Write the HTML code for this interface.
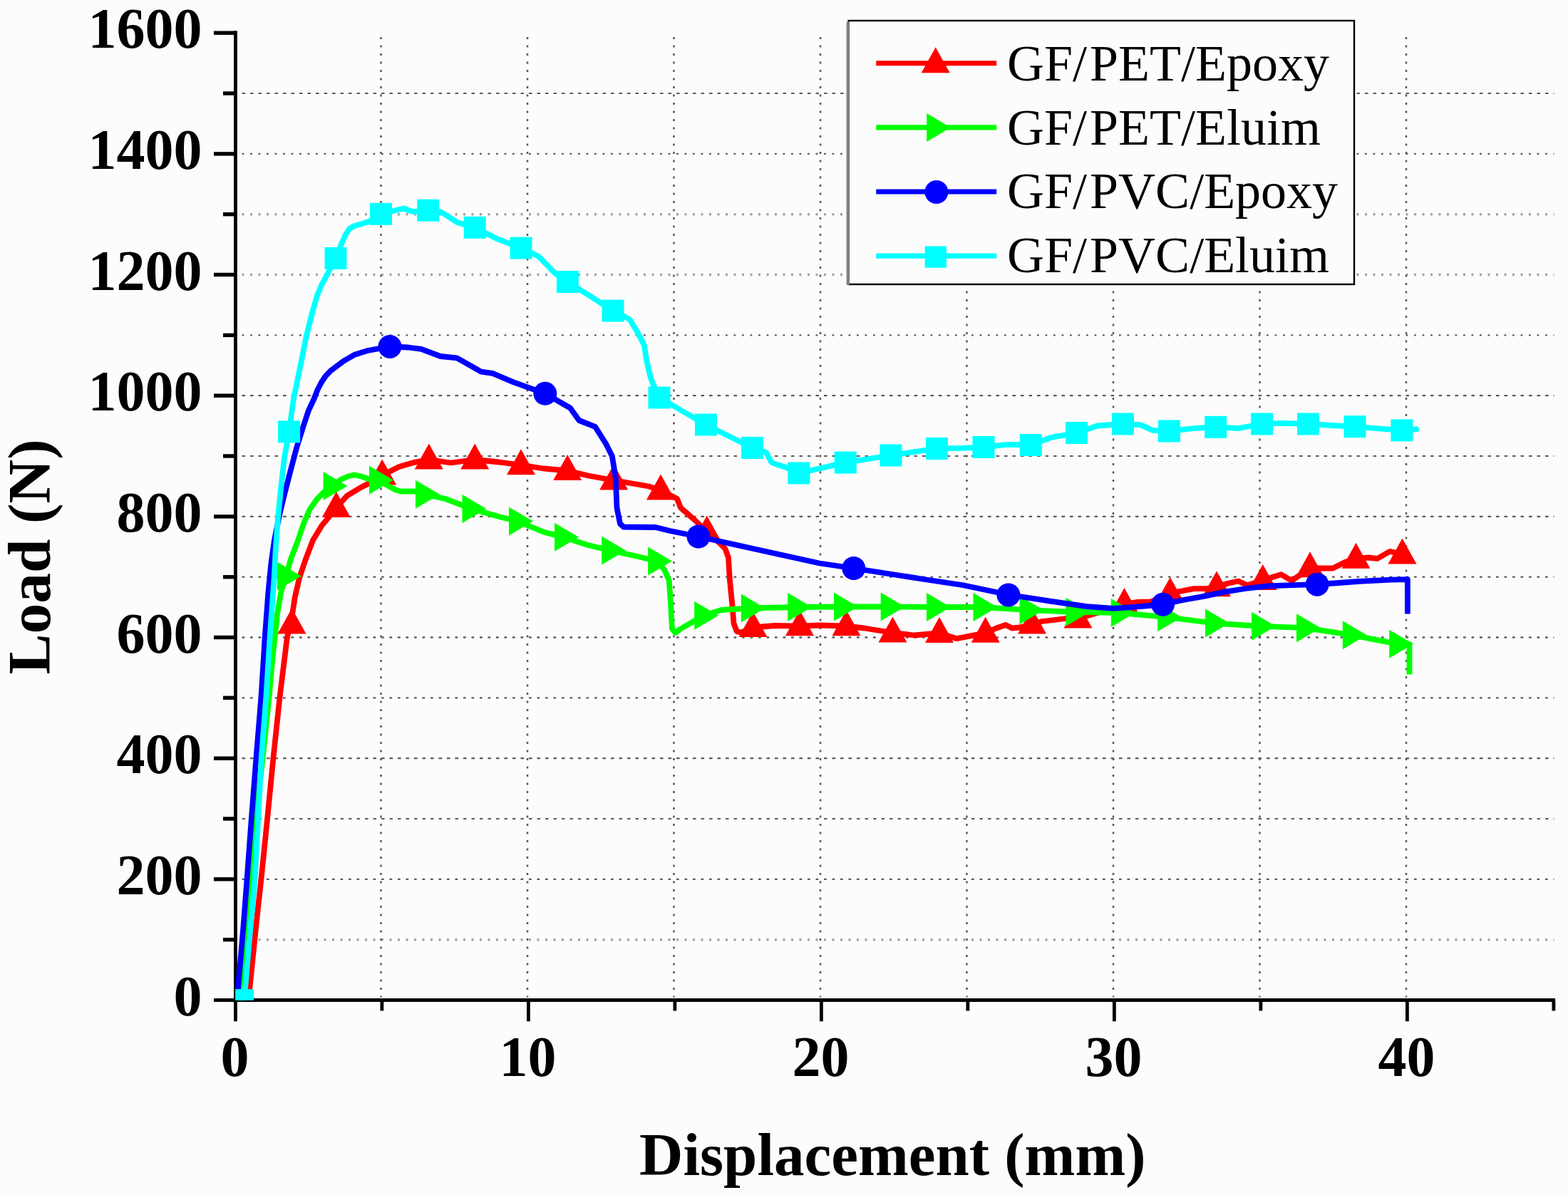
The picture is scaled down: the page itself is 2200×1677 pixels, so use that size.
<!DOCTYPE html>
<html lang="en">
<head>
<meta charset="utf-8">
<title>Load vs Displacement</title>
<style>
html,body{margin:0;padding:0;background:#fcfcfc;}
body{width:2200px;height:1677px;overflow:hidden;font-family:"Liberation Serif", "DejaVu Serif", serif;}
svg{display:block;}
</style>
</head>
<body>
<svg width="2200" height="1677" viewBox="0 0 2200 1677">
<rect width="2200" height="1677" fill="#fcfcfc"/>
<g fill="none">
<line x1="339.5" y1="1318.7" x2="2180.4" y2="1318.7" stroke="#a4a4a4" stroke-width="3.6" stroke-dasharray="3 8.5"/>
<line x1="339.5" y1="1233.8" x2="2180.4" y2="1233.8" stroke="#5c5c5c" stroke-width="2.3" stroke-dasharray="3.7 7.8"/>
<line x1="339.5" y1="1149.0" x2="2180.4" y2="1149.0" stroke="#5c5c5c" stroke-width="2.2" stroke-dasharray="4.6 6.9"/>
<line x1="339.5" y1="1064.2" x2="2180.4" y2="1064.2" stroke="#5c5c5c" stroke-width="2.2" stroke-dasharray="4.6 6.9"/>
<line x1="339.5" y1="979.3" x2="2180.4" y2="979.3" stroke="#5c5c5c" stroke-width="2.3" stroke-dasharray="3.7 7.8"/>
<line x1="339.5" y1="894.5" x2="2180.4" y2="894.5" stroke="#5c5c5c" stroke-width="2.3" stroke-dasharray="3.7 7.8"/>
<line x1="339.5" y1="809.7" x2="2180.4" y2="809.7" stroke="#5c5c5c" stroke-width="2.3" stroke-dasharray="3.7 7.8"/>
<line x1="339.5" y1="724.9" x2="2180.4" y2="724.9" stroke="#5c5c5c" stroke-width="2.2" stroke-dasharray="4.6 6.9"/>
<line x1="339.5" y1="640.0" x2="2180.4" y2="640.0" stroke="#5c5c5c" stroke-width="2.2" stroke-dasharray="4.6 6.9"/>
<line x1="339.5" y1="555.2" x2="2180.4" y2="555.2" stroke="#5c5c5c" stroke-width="2.2" stroke-dasharray="4.6 6.9"/>
<line x1="339.5" y1="470.4" x2="2180.4" y2="470.4" stroke="#5c5c5c" stroke-width="2.4" stroke-dasharray="2.8 8.7"/>
<line x1="339.5" y1="385.5" x2="2180.4" y2="385.5" stroke="#a4a4a4" stroke-width="3.6" stroke-dasharray="3 8.5"/>
<line x1="339.5" y1="300.7" x2="2180.4" y2="300.7" stroke="#a4a4a4" stroke-width="3.6" stroke-dasharray="3 8.5"/>
<line x1="339.5" y1="215.9" x2="2180.4" y2="215.9" stroke="#5c5c5c" stroke-width="2.4" stroke-dasharray="2.8 8.7"/>
<line x1="339.5" y1="131.0" x2="2180.4" y2="131.0" stroke="#5c5c5c" stroke-width="2.2" stroke-dasharray="4.6 6.9"/>
<line x1="534.5" y1="52" x2="534.5" y2="1399.5" stroke="#585858" stroke-width="2.5" stroke-dasharray="3 8.5"/>
<line x1="740.0" y1="52" x2="740.0" y2="1399.5" stroke="#585858" stroke-width="2.5" stroke-dasharray="3 8.5"/>
<line x1="945.5" y1="52" x2="945.5" y2="1399.5" stroke="#585858" stroke-width="2.5" stroke-dasharray="3 8.5"/>
<line x1="1151.0" y1="52" x2="1151.0" y2="1399.5" stroke="#585858" stroke-width="2.5" stroke-dasharray="3 8.5"/>
<line x1="1356.5" y1="52" x2="1356.5" y2="1399.5" stroke="#585858" stroke-width="2.5" stroke-dasharray="3 8.5"/>
<line x1="1562.0" y1="52" x2="1562.0" y2="1399.5" stroke="#585858" stroke-width="2.5" stroke-dasharray="3 8.5"/>
<line x1="1767.5" y1="52" x2="1767.5" y2="1399.5" stroke="#585858" stroke-width="2.5" stroke-dasharray="3 8.5"/>
<line x1="1973.0" y1="52" x2="1973.0" y2="1399.5" stroke="#585858" stroke-width="2.5" stroke-dasharray="3 8.5"/>
</g>
<g stroke="#000" stroke-width="4.8" fill="none" stroke-linecap="butt">
<line x1="330.45" y1="43.2" x2="330.45" y2="1433.3"/>
<line x1="300" y1="1403.5" x2="2182.0" y2="1403.5"/>
<line x1="313" y1="1318.7" x2="330.4" y2="1318.7" stroke-width="5.4"/>
<line x1="300" y1="1233.8" x2="330.4" y2="1233.8" stroke-width="5.4"/>
<line x1="313" y1="1149.0" x2="330.4" y2="1149.0" stroke-width="5.4"/>
<line x1="300" y1="1064.2" x2="330.4" y2="1064.2" stroke-width="5.4"/>
<line x1="313" y1="979.3" x2="330.4" y2="979.3" stroke-width="5.4"/>
<line x1="300" y1="894.5" x2="330.4" y2="894.5" stroke-width="5.4"/>
<line x1="313" y1="809.7" x2="330.4" y2="809.7" stroke-width="5.4"/>
<line x1="300" y1="724.9" x2="330.4" y2="724.9" stroke-width="5.4"/>
<line x1="313" y1="640.0" x2="330.4" y2="640.0" stroke-width="5.4"/>
<line x1="300" y1="555.2" x2="330.4" y2="555.2" stroke-width="5.4"/>
<line x1="313" y1="470.4" x2="330.4" y2="470.4" stroke-width="5.4"/>
<line x1="300" y1="385.5" x2="330.4" y2="385.5" stroke-width="5.4"/>
<line x1="313" y1="300.7" x2="330.4" y2="300.7" stroke-width="5.4"/>
<line x1="300" y1="215.9" x2="330.4" y2="215.9" stroke-width="5.4"/>
<line x1="313" y1="131.0" x2="330.4" y2="131.0" stroke-width="5.4"/>
<line x1="300" y1="46.2" x2="330.4" y2="46.2" stroke-width="5.4"/>
<line x1="535.9" y1="1403.5" x2="535.9" y2="1418.5"/>
<line x1="741.4" y1="1403.5" x2="741.4" y2="1433.3"/>
<line x1="946.9" y1="1403.5" x2="946.9" y2="1418.5"/>
<line x1="1152.4" y1="1403.5" x2="1152.4" y2="1433.3"/>
<line x1="1357.9" y1="1403.5" x2="1357.9" y2="1418.5"/>
<line x1="1563.4" y1="1403.5" x2="1563.4" y2="1433.3"/>
<line x1="1768.9" y1="1403.5" x2="1768.9" y2="1418.5"/>
<line x1="1974.4" y1="1403.5" x2="1974.4" y2="1433.3"/>
<line x1="2179.9" y1="1403.5" x2="2179.9" y2="1418.5"/>
</g>
<defs><clipPath id="plot"><rect x="330.15" y="0" width="1900" height="1403.70"/></clipPath></defs>
<g clip-path="url(#plot)">
<g>
<path d="M348.6 1404.0L350.2 1388.6L359.2 1300.0L366.4 1234.5L375.1 1148.9L383.5 1063.3L392.5 978.7L402.8 895.0L409.5 866.0L413.9 837.7L420.2 810.5L428.6 785.5L439.0 758.3L451.5 737.5L462.0 724.9L471.8 712.5L487.0 695.7L507.9 683.2L518.3 678.0L536.2 667.0L560.0 655.0L580.0 649.2L601.8 645.0L632.5 649.5L666.2 645.0L700.0 648.5L731.0 652.7L762.5 657.5L796.2 660.5L825.0 667.5L861.2 674.0L910.0 682.5L927.0 688.0L950.0 700.0L955.0 712.5L975.0 730.0L991.8 746.0L1007.5 760.0L1017.5 770.0L1022.0 782.5L1023.8 812.5L1027.5 850.0L1029.5 875.0L1033.8 886.2L1040.0 887.5L1056.5 880.5L1087.5 878.0L1122.0 878.7L1150.0 877.5L1187.5 878.7L1212.5 881.5L1252.5 888.0L1282.5 891.5L1318.0 888.5L1342.5 896.2L1382.7 888.3L1398.0 881.5L1411.0 877.0L1420.0 881.5L1431.0 880.5L1448.0 876.0L1462.0 872.0L1475.0 870.5L1495.0 868.0L1512.5 868.0L1545.0 858.5L1577.5 847.5L1595.0 845.0L1615.0 844.4L1641.8 832.5L1675.0 826.2L1692.5 826.2L1707.0 823.8L1722.5 818.8L1737.5 815.5L1750.0 821.2L1771.8 814.5L1785.0 810.0L1797.5 806.2L1812.5 815.0L1838.0 796.8L1855.0 797.5L1870.0 797.5L1887.5 788.8L1902.5 784.2L1920.0 782.5L1932.5 783.8L1950.0 773.8L1967.5 778.0" fill="none" stroke="#ff0000" stroke-width="7.8" stroke-linejoin="round" stroke-linecap="butt"/>
<path d="M409.5 853.5L429.5 889.5L389.5 889.5Z" fill="#ff0000"/>
<path d="M471.8 690.0L491.8 726.0L451.8 726.0Z" fill="#ff0000"/>
<path d="M536.2 644.5L556.2 680.5L516.2 680.5Z" fill="#ff0000"/>
<path d="M601.8 622.5L621.8 658.5L581.8 658.5Z" fill="#ff0000"/>
<path d="M666.2 622.5L686.2 658.5L646.2 658.5Z" fill="#ff0000"/>
<path d="M731.0 630.2L751.0 666.2L711.0 666.2Z" fill="#ff0000"/>
<path d="M796.2 638.0L816.2 674.0L776.2 674.0Z" fill="#ff0000"/>
<path d="M861.2 651.5L881.2 687.5L841.2 687.5Z" fill="#ff0000"/>
<path d="M927.0 665.5L947.0 701.5L907.0 701.5Z" fill="#ff0000"/>
<path d="M991.8 723.5L1011.8 759.5L971.8 759.5Z" fill="#ff0000"/>
<path d="M1056.5 858.0L1076.5 894.0L1036.5 894.0Z" fill="#ff0000"/>
<path d="M1122.0 856.2L1142.0 892.2L1102.0 892.2Z" fill="#ff0000"/>
<path d="M1187.5 856.2L1207.5 892.2L1167.5 892.2Z" fill="#ff0000"/>
<path d="M1252.5 865.5L1272.5 901.5L1232.5 901.5Z" fill="#ff0000"/>
<path d="M1318.0 866.0L1338.0 902.0L1298.0 902.0Z" fill="#ff0000"/>
<path d="M1382.7 865.8L1402.7 901.8L1362.7 901.8Z" fill="#ff0000"/>
<path d="M1448.0 853.5L1468.0 889.5L1428.0 889.5Z" fill="#ff0000"/>
<path d="M1512.5 845.5L1532.5 881.5L1492.5 881.5Z" fill="#ff0000"/>
<path d="M1577.5 825.0L1597.5 861.0L1557.5 861.0Z" fill="#ff0000"/>
<path d="M1641.8 810.0L1661.8 846.0L1621.8 846.0Z" fill="#ff0000"/>
<path d="M1707.0 801.2L1727.0 837.2L1687.0 837.2Z" fill="#ff0000"/>
<path d="M1771.8 792.0L1791.8 828.0L1751.8 828.0Z" fill="#ff0000"/>
<path d="M1838.0 774.2L1858.0 810.2L1818.0 810.2Z" fill="#ff0000"/>
<path d="M1902.5 761.8L1922.5 797.8L1882.5 797.8Z" fill="#ff0000"/>
<path d="M1967.5 755.5L1987.5 791.5L1947.5 791.5Z" fill="#ff0000"/>
</g>
<g>
<path d="M339.0 1404.0L346.5 1300.0L352.8 1234.5L359.0 1149.0L368.7 1063.0L377.5 979.0L383.7 910.0L386.2 890.0L388.9 862.7L394.1 831.4L401.4 808.4L407.7 785.5L418.1 758.3L426.5 733.3L434.8 714.5L445.3 699.9L454.0 691.0L466.1 682.1L478.7 672.7L489.0 668.2L497.5 666.5L507.0 668.5L518.0 672.7L530.5 673.8L555.0 687.5L562.5 689.5L582.5 689.5L595.5 693.8L625.0 700.0L661.0 713.9L700.0 725.0L726.5 731.5L762.5 746.5L790.5 753.8L825.0 765.0L856.8 772.5L895.0 781.0L921.8 787.5L932.5 800.0L938.8 815.0L941.2 850.0L943.0 882.5L947.5 888.0L955.0 882.5L986.8 863.8L1012.5 856.0L1052.3 853.5L1117.8 852.0L1182.5 851.5L1248.2 851.5L1312.5 852.0L1378.0 852.0L1443.0 856.2L1508.0 858.8L1571.2 860.0L1636.8 866.2L1703.5 874.5L1768.5 878.8L1831.5 881.2L1896.2 891.2L1961.8 903.8L1977.5 903.8L1977.5 946.6" fill="none" stroke="#00ff00" stroke-width="7.8" stroke-linejoin="round" stroke-linecap="butt"/>
<path d="M388.9 788.4L422.9 808.4L388.9 828.4Z" fill="#00ff00"/>
<path d="M453.6 662.1L487.6 682.1L453.6 702.1Z" fill="#00ff00"/>
<path d="M518.0 653.8L552.0 673.8L518.0 693.8Z" fill="#00ff00"/>
<path d="M583.0 673.8L617.0 693.8L583.0 713.8Z" fill="#00ff00"/>
<path d="M648.5 693.9L682.5 713.9L648.5 733.9Z" fill="#00ff00"/>
<path d="M714.0 711.5L748.0 731.5L714.0 751.5Z" fill="#00ff00"/>
<path d="M778.0 733.8L812.0 753.8L778.0 773.8Z" fill="#00ff00"/>
<path d="M844.2 752.5L878.2 772.5L844.2 792.5Z" fill="#00ff00"/>
<path d="M909.2 767.5L943.2 787.5L909.2 807.5Z" fill="#00ff00"/>
<path d="M974.2 843.8L1008.2 863.8L974.2 883.8Z" fill="#00ff00"/>
<path d="M1039.8 833.5L1073.8 853.5L1039.8 873.5Z" fill="#00ff00"/>
<path d="M1105.2 832.0L1139.2 852.0L1105.2 872.0Z" fill="#00ff00"/>
<path d="M1170.0 831.5L1204.0 851.5L1170.0 871.5Z" fill="#00ff00"/>
<path d="M1235.7 831.5L1269.7 851.5L1235.7 871.5Z" fill="#00ff00"/>
<path d="M1300.0 832.0L1334.0 852.0L1300.0 872.0Z" fill="#00ff00"/>
<path d="M1365.5 832.0L1399.5 852.0L1365.5 872.0Z" fill="#00ff00"/>
<path d="M1430.5 836.2L1464.5 856.2L1430.5 876.2Z" fill="#00ff00"/>
<path d="M1495.5 838.8L1529.5 858.8L1495.5 878.8Z" fill="#00ff00"/>
<path d="M1558.8 840.0L1592.8 860.0L1558.8 880.0Z" fill="#00ff00"/>
<path d="M1624.2 846.2L1658.2 866.2L1624.2 886.2Z" fill="#00ff00"/>
<path d="M1691.0 854.5L1725.0 874.5L1691.0 894.5Z" fill="#00ff00"/>
<path d="M1756.0 858.8L1790.0 878.8L1756.0 898.8Z" fill="#00ff00"/>
<path d="M1819.0 861.2L1853.0 881.2L1819.0 901.2Z" fill="#00ff00"/>
<path d="M1883.8 871.2L1917.8 891.2L1883.8 911.2Z" fill="#00ff00"/>
<path d="M1949.2 883.8L1983.2 903.8L1949.2 923.8Z" fill="#00ff00"/>
</g>
<g>
<path d="M332.6 1404.0L333.9 1388.6L341.5 1300.0L346.5 1234.5L352.8 1148.9L359.5 1063.3L366.4 978.7L372.0 890.0L376.4 831.4L380.5 789.6L385.0 758.0L392.0 723.0L399.0 694.0L407.7 660.2L416.0 628.9L424.4 601.8L432.7 576.7L440.5 560.0L445.5 547.0L451.0 536.5L457.0 527.5L464.5 519.8L481.8 506.8L497.7 497.7L516.0 492.0L547.0 486.4L572.7 487.5L591.0 489.8L618.0 500.0L641.0 502.3L675.0 521.6L691.0 523.9L720.5 536.4L764.8 552.3L800.0 572.5L812.5 590.0L835.0 598.8L850.0 622.5L858.8 640.0L863.8 670.0L865.5 712.5L870.0 735.0L875.0 739.5L920.0 740.0L940.0 745.0L980.0 753.0L1050.0 768.5L1150.0 790.5L1197.8 797.5L1300.0 813.5L1350.0 821.0L1414.5 834.5L1475.0 843.8L1525.0 851.2L1562.5 853.8L1600.0 851.2L1631.6 848.3L1660.0 842.0L1689.0 836.9L1718.2 830.6L1747.3 826.0L1776.4 822.6L1805.5 821.3L1848.1 820.2L1878.2 818.0L1907.3 815.8L1950.9 813.6L1974.9 813.2L1974.9 861.6" fill="none" stroke="#0000ff" stroke-width="7.8" stroke-linejoin="round" stroke-linecap="butt"/>
<circle cx="547.0" cy="486.4" r="16.5" fill="#0000ff"/>
<circle cx="764.8" cy="552.3" r="16.5" fill="#0000ff"/>
<circle cx="980.0" cy="753.0" r="16.5" fill="#0000ff"/>
<circle cx="1197.8" cy="797.5" r="16.5" fill="#0000ff"/>
<circle cx="1414.9" cy="834.9" r="16.5" fill="#0000ff"/>
<circle cx="1631.6" cy="848.3" r="16.5" fill="#0000ff"/>
<circle cx="1848.1" cy="820.2" r="16.5" fill="#0000ff"/>
</g>
<g>
<path d="M340.5 1403.6L344.0 1388.6L351.5 1300.0L357.6 1234.5L362.2 1148.9L366.8 1063.3L373.3 978.7L378.9 890.0L381.6 852.3L384.7 810.5L386.9 768.8L390.0 727.0L394.1 685.3L398.8 643.5L405.6 605.9L411.9 560.0L422.2 510.0L430.2 470.0L437.5 441.0L444.7 415.5L451.3 399.5L459.3 384.9L471.0 362.5L478.9 342.7L484.7 329.6L490.5 320.9L496.4 317.3L506.5 314.4L518.2 310.7L534.5 300.3L566.2 292.5L579.3 297.2L600.7 295.2L617.1 296.9L627.3 302.7L641.8 312.2L666.2 319.3L697.7 335.2L731.1 348.1L755.6 359.8L767.3 371.5L774.5 379.5L780.4 384.5L796.4 395.6L828.0 415.5L860.0 436.1L875.0 443.5L883.6 448.5L890.9 460.2L898.2 473.3L904.0 484.9L906.4 500.9L909.3 515.5L912.9 530.0L917.5 542.0L925.0 558.0L990.5 596.0L1055.5 628.5L1075.0 635.0L1082.5 648.8L1090.2 652.0L1101.8 655.5L1120.9 664.0L1186.2 649.1L1250.0 639.0L1314.5 629.5L1350.0 628.8L1380.0 627.5L1412.5 623.8L1446.2 624.5L1475.0 613.8L1510.5 607.5L1540.0 597.5L1575.5 595.0L1600.0 596.2L1617.5 603.8L1640.5 605.0L1675.0 601.2L1705.8 599.2L1737.5 601.2L1770.8 595.0L1800.0 593.8L1835.5 595.0L1901.0 598.8L1966.9 603.9L1987.3 602.4" fill="none" stroke="#00ffff" stroke-width="7.8" stroke-linejoin="round" stroke-linecap="round"/>
<rect x="325.0" y="1388.1" width="31.0" height="31.0" fill="#00ffff"/>
<rect x="390.1" y="590.4" width="31.0" height="31.0" fill="#00ffff"/>
<rect x="455.5" y="347.0" width="31.0" height="31.0" fill="#00ffff"/>
<rect x="519.0" y="284.8" width="31.0" height="31.0" fill="#00ffff"/>
<rect x="585.2" y="279.7" width="31.0" height="31.0" fill="#00ffff"/>
<rect x="650.7" y="303.8" width="31.0" height="31.0" fill="#00ffff"/>
<rect x="715.6" y="332.6" width="31.0" height="31.0" fill="#00ffff"/>
<rect x="780.9" y="380.1" width="31.0" height="31.0" fill="#00ffff"/>
<rect x="844.5" y="420.6" width="31.0" height="31.0" fill="#00ffff"/>
<rect x="909.5" y="542.5" width="31.0" height="31.0" fill="#00ffff"/>
<rect x="975.0" y="580.5" width="31.0" height="31.0" fill="#00ffff"/>
<rect x="1040.0" y="613.0" width="31.0" height="31.0" fill="#00ffff"/>
<rect x="1105.4" y="648.5" width="31.0" height="31.0" fill="#00ffff"/>
<rect x="1170.7" y="633.6" width="31.0" height="31.0" fill="#00ffff"/>
<rect x="1234.5" y="623.5" width="31.0" height="31.0" fill="#00ffff"/>
<rect x="1299.0" y="614.0" width="31.0" height="31.0" fill="#00ffff"/>
<rect x="1364.5" y="612.0" width="31.0" height="31.0" fill="#00ffff"/>
<rect x="1430.8" y="609.0" width="31.0" height="31.0" fill="#00ffff"/>
<rect x="1495.0" y="592.0" width="31.0" height="31.0" fill="#00ffff"/>
<rect x="1560.0" y="579.5" width="31.0" height="31.0" fill="#00ffff"/>
<rect x="1625.0" y="589.5" width="31.0" height="31.0" fill="#00ffff"/>
<rect x="1690.2" y="583.8" width="31.0" height="31.0" fill="#00ffff"/>
<rect x="1755.2" y="579.5" width="31.0" height="31.0" fill="#00ffff"/>
<rect x="1820.0" y="579.5" width="31.0" height="31.0" fill="#00ffff"/>
<rect x="1885.5" y="583.2" width="31.0" height="31.0" fill="#00ffff"/>
<rect x="1951.4" y="588.4" width="31.0" height="31.0" fill="#00ffff"/>
</g>
</g>
<g font-family='"Liberation Serif", "DejaVu Serif", serif' font-weight="bold" font-size="80" fill="#000">
<text x="283.6" y="1424.5" text-anchor="end">0</text>
<text x="283.6" y="1254.8" text-anchor="end">200</text>
<text x="283.6" y="1085.2" text-anchor="end">400</text>
<text x="283.6" y="915.5" text-anchor="end">600</text>
<text x="283.6" y="745.9" text-anchor="end">800</text>
<text x="283.6" y="576.2" text-anchor="end">1000</text>
<text x="283.6" y="406.5" text-anchor="end">1200</text>
<text x="283.6" y="236.9" text-anchor="end">1400</text>
<text x="283.6" y="67.2" text-anchor="end">1600</text>
<text x="329.4" y="1509.6" text-anchor="middle">0</text>
<text x="740.4" y="1509.6" text-anchor="middle">10</text>
<text x="1151.4" y="1509.6" text-anchor="middle">20</text>
<text x="1562.4" y="1509.6" text-anchor="middle">30</text>
<text x="1973.4" y="1509.6" text-anchor="middle">40</text>
</g>
<g font-family='"Liberation Serif", "DejaVu Serif", serif' font-weight="bold" fill="#000">
<text x="1252.3" y="1649" font-size="85" text-anchor="middle">Displacement (mm)</text>
<text transform="translate(70 781.4) rotate(-90)" font-size="85.5" text-anchor="middle">Load (N)</text>
</g>
<rect x="1190.6" y="29" width="709.4" height="370" fill="#fcfcfc" stroke="#000" stroke-width="2.4"/>
<line x1="1189.7" y1="30.4" x2="1189.7" y2="399.8" stroke="#7d837d" stroke-width="4.2"/>
<line x1="1229.3" y1="88.75" x2="1398.2" y2="88.75" stroke="#ff0000" stroke-width="7.2"/>
<path d="M1312.7 66.2L1332.7 102.2L1292.7 102.2Z" fill="#ff0000"/>
<text x="1413" y="113.3" dx="0 0 0 4" font-family='"Liberation Serif", "DejaVu Serif", serif' font-size="72" fill="#000">GF/PET/Epoxy</text>
<line x1="1229.3" y1="178.9" x2="1398.2" y2="178.9" stroke="#00ff00" stroke-width="7.2"/>
<path d="M1300.2 158.9L1334.2 178.9L1300.2 198.9Z" fill="#00ff00"/>
<text x="1413" y="203.0" dx="0 0 0 4" font-family='"Liberation Serif", "DejaVu Serif", serif' font-size="72" fill="#000">GF/PET/Eluim</text>
<line x1="1229.3" y1="269.0" x2="1398.2" y2="269.0" stroke="#0000ff" stroke-width="7.2"/>
<circle cx="1313.9" cy="269.5" r="16.5" fill="#0000ff"/>
<text x="1413" y="292.4" dx="0 0 0 4" font-family='"Liberation Serif", "DejaVu Serif", serif' font-size="72" fill="#000">GF/PVC/Epoxy</text>
<line x1="1229.3" y1="359.1" x2="1398.2" y2="359.1" stroke="#00ffff" stroke-width="7.2"/>
<rect x="1297.7" y="345.5" width="30.2" height="30.2" fill="#00ffff"/>
<text x="1413" y="382.3" dx="0 0 0 4" font-family='"Liberation Serif", "DejaVu Serif", serif' font-size="72" fill="#000">GF/PVC/Eluim</text>
</svg>
</body>
</html>
